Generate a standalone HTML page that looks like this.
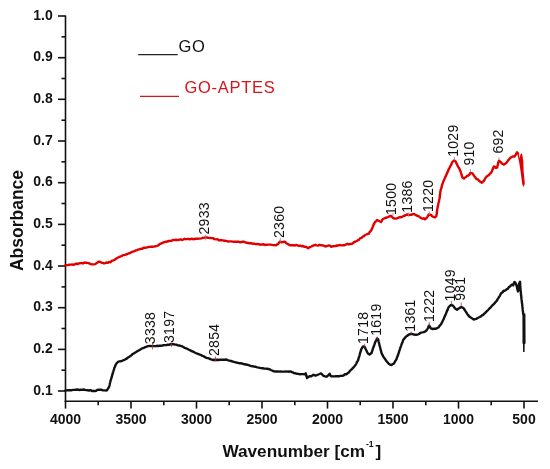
<!DOCTYPE html>
<html><head><meta charset="utf-8"><title>FTIR spectra GO / GO-APTES</title>
<style>
html,body{margin:0;padding:0;background:#fff;}
body{width:550px;height:469px;overflow:hidden;}
svg{display:block;}
text{font-family:"Liberation Sans",Arial,sans-serif;}
.tl{font-weight:bold;font-size:14px;fill:#111;}
.ti{font-weight:bold;font-size:17.5px;fill:#111;}
.pk{font-size:14px;letter-spacing:0.3px;fill:#111;stroke:none;}
.lg{font-size:16.5px;}
</style></head><body>
<svg width="550" height="469" viewBox="0 0 550 469">
<rect width="550" height="469" fill="#fff"/>
<g stroke="#111" stroke-width="1.6" fill="none">
<line x1="65.5" y1="15.6" x2="65.5" y2="402.0"/>
<line x1="64.7" y1="401.2" x2="538" y2="401.2"/>
<line x1="58" y1="391.0" x2="65.5" y2="391.0"/>
<line x1="58" y1="349.4" x2="65.5" y2="349.4"/>
<line x1="58" y1="307.7" x2="65.5" y2="307.7"/>
<line x1="58" y1="266.0" x2="65.5" y2="266.0"/>
<line x1="58" y1="224.4" x2="65.5" y2="224.4"/>
<line x1="58" y1="182.7" x2="65.5" y2="182.7"/>
<line x1="58" y1="141.0" x2="65.5" y2="141.0"/>
<line x1="58" y1="99.3" x2="65.5" y2="99.3"/>
<line x1="58" y1="57.7" x2="65.5" y2="57.7"/>
<line x1="58" y1="16.0" x2="65.5" y2="16.0"/>
<line x1="61.5" y1="370.2" x2="65.5" y2="370.2"/>
<line x1="61.5" y1="328.5" x2="65.5" y2="328.5"/>
<line x1="61.5" y1="286.9" x2="65.5" y2="286.9"/>
<line x1="61.5" y1="245.2" x2="65.5" y2="245.2"/>
<line x1="61.5" y1="203.5" x2="65.5" y2="203.5"/>
<line x1="61.5" y1="161.8" x2="65.5" y2="161.8"/>
<line x1="61.5" y1="120.2" x2="65.5" y2="120.2"/>
<line x1="61.5" y1="78.5" x2="65.5" y2="78.5"/>
<line x1="61.5" y1="36.8" x2="65.5" y2="36.8"/>
<line x1="65.5" y1="401.2" x2="65.5" y2="408.6"/>
<line x1="131.0" y1="401.2" x2="131.0" y2="408.6"/>
<line x1="196.5" y1="401.2" x2="196.5" y2="408.6"/>
<line x1="262.0" y1="401.2" x2="262.0" y2="408.6"/>
<line x1="327.5" y1="401.2" x2="327.5" y2="408.6"/>
<line x1="393.0" y1="401.2" x2="393.0" y2="408.6"/>
<line x1="458.5" y1="401.2" x2="458.5" y2="408.6"/>
<line x1="524.0" y1="401.2" x2="524.0" y2="408.6"/>
<line x1="98.2" y1="401.2" x2="98.2" y2="405.3"/>
<line x1="163.8" y1="401.2" x2="163.8" y2="405.3"/>
<line x1="229.2" y1="401.2" x2="229.2" y2="405.3"/>
<line x1="294.8" y1="401.2" x2="294.8" y2="405.3"/>
<line x1="360.2" y1="401.2" x2="360.2" y2="405.3"/>
<line x1="425.8" y1="401.2" x2="425.8" y2="405.3"/>
<line x1="491.2" y1="401.2" x2="491.2" y2="405.3"/>
</g>
<text class="tl" x="52.8" y="394.5" text-anchor="end">0.1</text>
<text class="tl" x="52.8" y="352.9" text-anchor="end">0.2</text>
<text class="tl" x="52.8" y="311.2" text-anchor="end">0.3</text>
<text class="tl" x="52.8" y="269.5" text-anchor="end">0.4</text>
<text class="tl" x="52.8" y="227.9" text-anchor="end">0.5</text>
<text class="tl" x="52.8" y="186.2" text-anchor="end">0.6</text>
<text class="tl" x="52.8" y="144.5" text-anchor="end">0.7</text>
<text class="tl" x="52.8" y="102.8" text-anchor="end">0.8</text>
<text class="tl" x="52.8" y="61.2" text-anchor="end">0.9</text>
<text class="tl" x="52.8" y="19.5" text-anchor="end">1.0</text>
<text class="tl" x="65.5" y="424.1" text-anchor="middle">4000</text>
<text class="tl" x="131.0" y="424.1" text-anchor="middle">3500</text>
<text class="tl" x="196.5" y="424.1" text-anchor="middle">3000</text>
<text class="tl" x="262.0" y="424.1" text-anchor="middle">2500</text>
<text class="tl" x="327.5" y="424.1" text-anchor="middle">2000</text>
<text class="tl" x="393.0" y="424.1" text-anchor="middle">1500</text>
<text class="tl" x="458.5" y="424.1" text-anchor="middle">1000</text>
<text class="tl" x="524.0" y="424.1" text-anchor="middle">500</text>
<text class="ti" transform="translate(23,220.5) rotate(-90)" text-anchor="middle">Absorbance</text>
<text class="ti" x="222.4" y="457.4" style="font-size:17.2px">Wavenumber [cm</text>
<text class="ti" x="366.0" y="446.9" style="font-size:8.6px">-1</text>
<text class="ti" x="375.4" y="457.4" style="font-size:17.2px">]</text>
<line x1="138.2" y1="54.6" x2="177.7" y2="54.6" stroke="#222" stroke-width="1.3"/>
<text class="lg" x="178.5" y="52.4" letter-spacing="0.6" fill="#111">GO</text>
<line x1="140" y1="96.3" x2="179" y2="96.3" stroke="#d2161c" stroke-width="1.3"/>
<text class="lg" x="184.5" y="92.7" letter-spacing="0.7" fill="#d2161c">GO-APTES</text>
<polyline points="65.5,265.3 66.8,265.1 68.1,265.0 69.4,264.8 70.7,264.6 72.2,264.5 73.6,264.8 75.1,264.1 76.3,263.5 77.5,264.1 78.8,263.4 80.0,263.3 81.5,262.9 82.9,263.5 84.4,262.5 85.8,262.8 87.3,262.9 88.7,263.1 90.2,263.8 91.6,264.4 93.1,264.4 95.3,264.1 96.3,263.3 97.2,262.8 98.2,261.8 99.7,261.8 101.1,262.5 102.5,262.8 104.0,263.4 105.2,263.1 106.4,262.5 107.6,262.9 109.0,261.9 110.5,262.2 112.0,260.6 113.5,260.4 115.0,259.4 116.4,258.5 117.6,257.8 118.8,257.2 120.0,256.7 121.5,256.2 122.9,255.1 124.4,255.1 125.8,254.5 127.3,254.0 128.7,253.4 130.1,253.0 131.4,252.2 132.8,251.7 134.2,251.3 135.5,250.4 136.9,250.2 138.2,249.4 139.6,249.4 141.0,248.7 142.3,248.8 143.7,247.7 145.1,247.7 146.5,247.6 148.0,247.2 149.4,246.9 150.9,246.7 152.3,246.8 153.8,246.6 155.4,246.3 157.1,245.8 158.2,245.4 159.2,244.5 160.3,243.8 161.4,243.3 162.9,242.7 164.3,242.1 165.8,241.8 167.3,241.5 168.7,241.0 170.2,240.9 171.6,240.8 173.1,239.9 174.5,240.0 176.2,239.8 178.0,240.1 179.4,239.7 180.8,239.3 182.1,240.0 183.5,239.4 184.8,238.8 186.2,239.1 187.6,239.0 188.9,239.0 190.3,239.3 191.7,238.6 193.0,239.2 194.4,239.0 195.8,238.8 197.1,238.8 198.5,238.6 199.8,238.6 201.4,238.4 203.1,237.9 205.3,237.5 206.9,237.5 208.5,237.9 210.0,238.0 211.4,238.1 212.9,238.1 214.6,239.1 216.2,239.4 217.5,239.1 218.9,240.2 220.2,240.3 221.6,240.3 223.0,240.4 224.3,240.8 225.7,240.8 227.1,241.1 228.4,241.6 229.8,241.4 231.2,241.4 232.5,241.6 233.8,241.7 235.0,241.8 236.3,241.8 237.6,241.8 238.9,241.7 240.2,242.4 241.5,242.0 242.8,241.8 244.1,241.7 245.5,242.6 246.8,242.8 248.1,243.0 249.4,243.2 250.7,243.3 252.0,243.5 253.3,243.7 254.6,243.8 255.9,244.1 257.2,244.0 258.6,244.1 259.9,244.7 261.2,244.4 262.5,244.5 263.8,244.3 265.1,245.0 266.4,244.7 267.7,244.6 269.2,244.6 270.6,244.6 272.1,244.9 273.4,245.1 274.6,245.1 275.9,245.4 277.0,244.5 278.1,244.1 279.0,242.6 279.9,241.6 281.3,242.2 283.0,242.0 284.6,241.6 285.5,242.3 286.3,243.3 288.4,244.4 290.0,245.2 291.7,245.2 293.4,245.2 295.0,245.5 296.2,244.9 297.5,245.4 298.9,245.8 300.2,245.7 301.5,246.2 302.9,246.0 304.5,246.9 306.2,246.8 307.8,248.2 308.9,247.6 310.0,247.1 311.3,246.5 312.5,245.9 313.8,245.4 315.2,244.8 316.6,245.4 317.9,245.6 319.3,244.9 320.7,245.2 322.2,245.3 323.6,245.7 325.8,246.5 327.5,245.8 329.1,245.4 330.2,245.8 331.3,246.8 332.7,246.2 334.2,246.1 335.6,246.0 337.0,245.5 338.4,245.5 339.7,244.9 341.1,245.4 342.4,245.4 343.7,245.2 345.0,245.0 346.3,244.4 347.7,243.7 349.0,244.5 350.3,244.0 351.7,243.9 353.0,243.0 354.3,242.0 355.7,241.5 357.0,241.0 358.0,240.0 359.0,239.8 360.0,238.4 361.0,238.0 362.0,237.6 363.0,236.4 364.0,236.1 365.0,235.0 366.3,234.5 367.7,233.9 369.0,233.5 369.7,231.9 370.5,231.2 371.2,230.5 371.6,229.3 372.1,228.5 372.6,227.2 373.0,226.0 373.7,224.4 374.3,223.5 375.0,222.0 376.0,221.4 377.0,220.0 379.0,221.0 381.0,222.0 381.7,220.9 382.3,219.8 383.0,219.0 385.0,218.0 387.0,217.5 389.0,216.5 391.0,216.0 392.0,216.8 393.0,218.0 395.0,218.6 396.2,218.6 397.4,218.2 398.6,217.7 399.8,217.0 401.1,217.2 402.3,216.8 403.6,216.0 405.0,215.5 406.4,214.7 407.7,214.5 409.1,215.1 410.5,214.7 411.7,214.8 412.9,214.0 414.1,214.1 415.3,214.7 416.5,215.5 417.7,215.9 418.9,216.4 420.2,217.4 421.4,218.2 422.6,218.8 423.8,218.2 425.0,219.3 425.9,218.6 426.8,217.7 427.4,216.9 428.0,215.8 428.6,214.5 430.0,214.7 431.1,215.0 432.3,216.4 433.6,217.0 435.0,217.3 436.4,215.9 436.6,214.2 436.8,213.4 436.9,212.1 437.1,210.5 437.3,209.1 437.6,207.5 437.8,206.3 438.1,205.6 438.3,203.6 438.6,202.7 438.9,201.7 439.1,200.4 439.4,199.0 439.6,197.6 439.8,197.4 439.9,195.2 440.1,194.5 440.3,192.2 440.5,191.4 440.8,189.5 441.1,189.0 441.5,187.7 441.8,186.1 442.1,184.9 442.7,183.5 443.2,181.7 443.8,180.6 444.3,179.4 444.9,177.9 445.4,176.9 445.9,175.9 446.5,174.5 447.0,173.3 447.6,172.1 448.1,170.7 448.6,169.6 449.2,168.4 449.7,167.5 450.2,166.3 450.8,165.3 451.3,164.5 451.9,162.9 452.4,162.0 454.1,160.4 455.7,161.5 456.3,163.2 456.8,163.8 457.4,165.3 458.2,166.9 459.0,168.0 459.5,168.9 460.1,170.6 460.6,171.3 460.9,172.5 461.3,173.8 461.6,175.1 462.0,175.9 462.3,177.3 463.9,178.6 465.0,177.5 466.1,177.0 467.2,175.8 468.3,175.6 469.4,174.6 470.4,172.9 472.1,173.1 472.8,174.0 473.6,175.0 474.3,176.2 475.2,177.2 476.1,178.7 477.0,179.2 478.0,179.5 479.0,180.8 480.0,181.5 481.9,182.8 482.8,181.8 483.7,181.0 484.4,180.0 485.2,178.3 485.9,177.5 486.7,176.5 487.7,175.8 488.7,175.2 489.7,173.9 490.8,173.0 491.9,171.3 492.4,169.9 492.9,168.9 493.3,167.6 493.8,166.4 494.8,166.8 495.7,167.9 497.2,167.5 497.5,165.8 497.8,165.1 498.0,163.7 498.3,162.3 499.0,160.8 500.5,161.9 501.4,162.8 502.4,163.8 503.9,164.6 505.7,163.4 506.6,162.7 507.6,161.2 508.4,159.9 509.1,159.4 509.9,158.2 510.8,157.5 512.7,156.5 514.6,156.5 515.3,155.3 516.0,154.1 517.0,152.2 518.0,153.5" fill="none" stroke="#e00000" stroke-width="2.4" stroke-linejoin="round" stroke-linecap="round"/>
<polyline points="65.5,390.5 66.8,390.4 68.1,390.3 69.4,390.2 70.6,390.1 71.9,390.2 73.2,389.9 74.5,389.9 75.8,389.7 77.1,389.5 78.4,389.7 79.7,390.0 81.0,389.7 82.3,389.9 83.6,389.5 85.0,389.8 86.3,390.1 87.7,390.3 89.1,390.5 90.6,390.1 92.0,391.0 93.5,391.0 95.0,391.0 96.2,390.8 97.3,389.9 98.5,389.6 99.7,389.8 101.5,389.8 103.2,390.4 105.0,390.4 106.7,390.6 107.5,389.5 108.3,388.1 109.1,386.9 109.4,385.8 109.7,384.5 109.9,383.4 110.2,382.3 110.5,381.0 110.8,379.9 111.2,378.9 111.5,377.6 111.9,376.5 112.2,375.1 112.6,374.0 112.9,372.7 113.3,371.6 113.6,370.4 114.0,369.4 114.3,368.1 114.9,366.8 115.5,365.3 116.1,364.0 117.2,362.7 118.4,361.7 119.6,361.4 120.8,361.3 122.0,360.9 123.2,360.3 124.3,359.9 125.5,359.3 126.7,358.6 127.8,357.6 129.0,357.0 130.2,356.1 131.3,355.4 132.5,354.1 133.7,353.5 134.9,352.7 136.1,352.0 137.2,351.2 138.4,350.6 139.6,350.0 140.8,349.3 141.9,348.5 143.1,348.0 144.3,347.6 145.4,347.1 146.6,346.7 147.8,346.1 150.0,345.9 151.4,346.1 152.8,346.0 154.1,346.1 155.5,346.1 156.8,345.8 158.2,346.0 159.6,345.7 160.9,345.7 162.3,345.5 163.7,345.2 165.0,345.1 166.4,345.0 167.8,344.8 169.1,344.8 170.5,344.2 171.8,344.3 173.3,344.2 174.7,344.5 176.2,344.6 177.6,345.2 179.1,345.5 180.5,345.9 181.6,346.2 182.7,346.6 183.8,347.4 184.9,347.9 186.2,348.4 187.6,349.0 189.0,349.8 190.3,350.3 191.4,351.0 192.5,351.4 193.6,351.9 194.7,352.5 195.8,353.0 197.2,353.7 198.6,354.2 199.9,354.7 201.3,355.2 202.5,355.9 203.8,356.3 205.0,357.2 206.5,357.8 207.9,358.2 209.4,358.6 211.0,359.4 212.6,360.0 214.2,359.8 215.9,360.0 217.3,359.8 218.7,360.0 220.0,359.6 221.4,359.7 222.8,359.7 224.1,359.8 225.5,359.5 226.8,359.7 228.2,360.3 229.6,360.6 230.9,361.0 232.3,361.4 233.7,361.8 235.0,362.2 236.3,362.5 237.7,362.8 239.1,363.2 240.4,363.2 241.8,363.5 243.2,363.8 244.5,364.3 245.9,364.5 247.2,364.7 248.6,365.2 250.0,365.7 251.3,366.1 252.7,366.2 254.1,366.6 255.3,366.7 256.5,367.1 257.6,367.4 258.8,367.6 260.0,367.9 261.4,368.2 262.8,368.1 264.1,368.6 265.5,368.6 266.9,368.7 268.4,369.0 269.8,369.4 270.9,370.0 272.0,370.5 273.1,371.0 274.2,371.4 275.5,371.5 276.7,371.5 278.0,371.5 279.3,371.6 280.5,371.5 281.8,371.6 283.0,371.6 284.3,371.6 285.5,371.5 286.8,371.6 288.0,371.5 289.3,371.7 290.5,371.4 291.6,372.0 292.7,372.3 293.8,373.0 295.5,373.3 297.1,373.8 298.5,373.9 300.0,374.3 301.4,374.1 303.0,374.1 304.7,374.4 305.8,373.3 306.1,374.6 306.4,376.3 306.6,376.1 306.9,378.1 308.5,376.8 309.9,376.2 311.3,376.3 312.4,375.6 313.4,374.8 315.6,375.5 317.0,375.1 318.3,374.5 319.6,374.0 321.0,373.4 321.9,374.1 322.8,375.3 323.7,375.9 325.1,376.4 326.5,376.7 327.6,375.8 328.6,375.3 329.7,373.7 330.5,375.7 331.4,376.2 333.0,376.4 334.6,376.4 336.1,376.2 337.5,376.2 339.0,376.2 340.5,375.9 341.9,375.8 343.4,375.6 345.0,374.1 346.6,374.3 347.7,373.1 348.8,372.4 349.9,371.0 351.0,369.8 352.1,368.8 353.2,367.7 354.1,366.7 355.0,365.6 355.9,364.4 356.4,363.5 357.0,362.0 357.6,361.1 358.1,360.1 358.5,358.7 358.9,357.4 359.3,356.1 359.7,354.6 360.1,352.9 360.5,352.0 360.9,350.4 361.3,349.2 362.1,347.9 363.0,346.5 364.6,346.8 365.2,347.8 365.7,349.2 366.3,350.3 367.1,352.0 367.9,353.5 369.5,354.6 370.5,353.8 371.5,353.0 371.9,351.8 372.3,350.7 372.7,349.4 373.1,348.2 373.5,347.0 374.0,345.8 374.5,344.4 375.0,342.8 375.5,341.5 376.2,340.3 377.0,338.5 378.0,339.0 378.3,340.1 378.6,341.5 378.9,342.6 379.2,343.8 379.5,345.0 379.8,346.4 380.2,347.7 380.5,349.1 380.8,350.2 381.2,351.5 381.5,353.0 382.2,354.4 382.8,355.6 383.5,357.0 384.3,358.0 385.2,359.2 386.0,360.5 387.0,361.8 388.0,362.9 389.0,364.0 390.2,364.7 391.5,365.0 392.8,364.1 394.0,363.5 394.6,362.4 395.2,361.1 395.9,360.2 396.5,359.0 396.9,358.0 397.3,356.6 397.8,355.7 398.2,354.5 398.6,353.1 399.0,352.0 399.4,350.5 399.8,349.7 400.2,348.2 400.7,346.9 401.1,345.8 401.5,344.5 402.0,343.3 402.5,342.2 403.0,340.6 403.5,339.5 404.3,338.6 405.2,337.7 406.0,336.5 407.0,336.0 408.0,335.1 409.0,334.5 411.0,333.8 412.5,334.1 414.0,334.5 416.0,334.8 418.3,334.3 419.6,333.6 421.0,332.6 422.4,332.4 423.7,332.1 424.8,331.6 425.9,331.0 426.7,330.1 427.5,328.8 428.1,327.7 428.6,326.3 429.2,325.5 430.0,326.9 430.8,328.3 433.0,329.0 434.4,328.7 435.7,328.8 437.0,328.2 438.4,327.5 439.3,326.3 440.3,325.0 441.2,323.9 441.7,322.8 442.3,321.8 442.8,320.6 443.4,319.7 443.9,318.4 444.4,317.1 445.0,315.9 445.5,314.7 446.1,313.4 446.6,311.9 447.2,310.6 447.7,309.6 448.2,308.0 448.8,307.0 449.9,305.9 451.0,305.0 452.6,305.4 453.7,306.5 454.8,308.1 455.9,309.0 457.0,309.7 458.1,308.9 459.2,308.3 460.2,307.6 461.3,307.0 462.4,307.5 463.5,308.1 464.2,309.2 464.9,310.2 465.6,311.4 466.3,312.4 467.2,313.9 468.1,315.0 469.0,316.3 470.3,317.3 471.6,318.1 472.7,318.9 473.8,319.5 475.1,319.1 476.5,318.8 477.6,318.0 478.7,317.5 479.8,317.0 480.9,316.4 482.0,315.3 483.1,314.8 484.1,313.8 485.0,313.1 485.9,312.2 486.9,311.2 488.1,310.0 489.3,308.7 490.1,307.9 491.0,307.0 491.8,306.0 492.7,305.1 493.5,304.4 494.4,303.4 495.2,302.6 496.0,301.5 496.9,300.6 497.5,299.4 498.2,298.4 498.9,297.2 499.5,296.3 500.2,295.1 500.9,293.6 501.6,292.9 502.6,292.3 503.6,290.7 504.6,290.8 505.7,290.2 506.9,289.1 508.0,288.6 508.9,287.0 509.7,286.9 510.6,285.7 512.0,284.6 513.1,285.4 513.6,284.2 514.2,282.4 514.7,282.1 515.5,283.1 516.3,284.8 516.6,286.2 517.0,287.3 517.3,289.0 517.7,290.3 518.0,291.4 518.2,290.3 518.4,288.9 518.5,288.0 518.7,286.5 518.9,285.1 519.1,283.7 520.0,281.8 520.1,282.3 520.2,284.6 520.2,286.0 520.3,286.6 520.4,287.8 520.5,289.2 520.6,291.1 520.8,291.1 520.9,293.2 521.0,295.1 521.2,295.2 521.3,296.8 521.4,298.3 521.6,299.9 521.7,300.5 521.9,302.0 522.0,303.3 522.2,303.9 522.3,305.5 522.4,306.7 522.6,308.0 522.7,309.4 522.8,310.3 522.9,311.5 523.1,312.4 523.2,314.0" fill="none" stroke="#111" stroke-width="2.4" stroke-linejoin="round" stroke-linecap="round"/>
<polygon points="522.4,313.5 525.4,313.5 525.6,343.5 524.7,344.0 524.6,352.0 523.1,352.0 523.0,344.0 522.5,343.5" fill="#111"/>
<polygon points="517.3,153.8 518.2,152.0 519.2,156.0 519.6,158.5 520.3,155.0 521.2,153.3 522.2,154.2 523.3,161.0 523.7,172.0 524.8,183.5 523.6,187.0 522.3,184.5 520.8,173.0 519.3,163.0 517.8,156.0" fill="#e00000"/>
<line x1="152.6" y1="343.5" x2="152.6" y2="349.5" stroke="#c03030" stroke-width="0.8"/>
<line x1="171.4" y1="342.5" x2="171.4" y2="347.0" stroke="#c03030" stroke-width="0.8"/>
<line x1="215.5" y1="356.5" x2="215.5" y2="361.5" stroke="#c03030" stroke-width="0.8"/>
<line x1="205.3" y1="234.6" x2="205.3" y2="240.3" stroke="#a08080" stroke-width="0.8"/>
<line x1="280.3" y1="238.0" x2="280.3" y2="242.5" stroke="#a08080" stroke-width="0.8"/>
<line x1="393.0" y1="212.8" x2="393.0" y2="216.5" stroke="#a08080" stroke-width="0.8"/>
<line x1="408.5" y1="212.7" x2="408.5" y2="216.5" stroke="#a08080" stroke-width="0.8"/>
<line x1="429.4" y1="211.5" x2="429.4" y2="215.0" stroke="#a08080" stroke-width="0.8"/>
<line x1="451.6" y1="301.0" x2="451.6" y2="304.2" stroke="#c03030" stroke-width="0.8"/>
<line x1="454.4" y1="157.0" x2="454.4" y2="160.4" stroke="#a08080" stroke-width="0.8"/>
<line x1="461.2" y1="302.5" x2="461.2" y2="306.0" stroke="#c03030" stroke-width="0.8"/>
<line x1="470.4" y1="169.0" x2="470.4" y2="172.4" stroke="#a08080" stroke-width="0.8"/>
<line x1="499.0" y1="157.4" x2="499.0" y2="160.3" stroke="#a08080" stroke-width="0.8"/>
<line x1="364.7" y1="343.8" x2="364.7" y2="347.5" stroke="#c03030" stroke-width="0.8"/>
<line x1="377.3" y1="336.5" x2="377.3" y2="339.5" stroke="#c03030" stroke-width="0.8"/>
<line x1="411.2" y1="331.5" x2="411.2" y2="334.5" stroke="#c03030" stroke-width="0.8"/>
<line x1="429.2" y1="322.0" x2="429.2" y2="325.8" stroke="#c03030" stroke-width="0.8"/>
<text class="pk" transform="translate(155.1,344.2) rotate(-90)">3338</text>
<text class="pk" transform="translate(173.9,343.0) rotate(-90)">3197</text>
<text class="pk" transform="translate(219.3,356.0) rotate(-90)">2854</text>
<text class="pk" transform="translate(209.0,234.5) rotate(-90)">2933</text>
<text class="pk" transform="translate(283.9,238.0) rotate(-90)">2360</text>
<text class="pk" transform="translate(395.9,215.0) rotate(-90)">1500</text>
<text class="pk" transform="translate(411.5,212.7) rotate(-90)">1386</text>
<text class="pk" transform="translate(433.2,212.0) rotate(-90)">1220</text>
<text class="pk" transform="translate(455.1,301.4) rotate(-90)">1049</text>
<text class="pk" transform="translate(457.9,156.8) rotate(-90)">1029</text>
<text class="pk" transform="translate(464.9,300.8) rotate(-90)">981</text>
<text class="pk" transform="translate(474.2,165.6) rotate(-90)">910</text>
<text class="pk" transform="translate(502.7,153.6) rotate(-90)">692</text>
<text class="pk" transform="translate(367.8,344.0) rotate(-90)">1718</text>
<text class="pk" transform="translate(381.2,335.8) rotate(-90)">1619</text>
<text class="pk" transform="translate(415.0,331.7) rotate(-90)">1361</text>
<text class="pk" transform="translate(433.7,321.9) rotate(-90)">1222</text>
</svg>
</body></html>
